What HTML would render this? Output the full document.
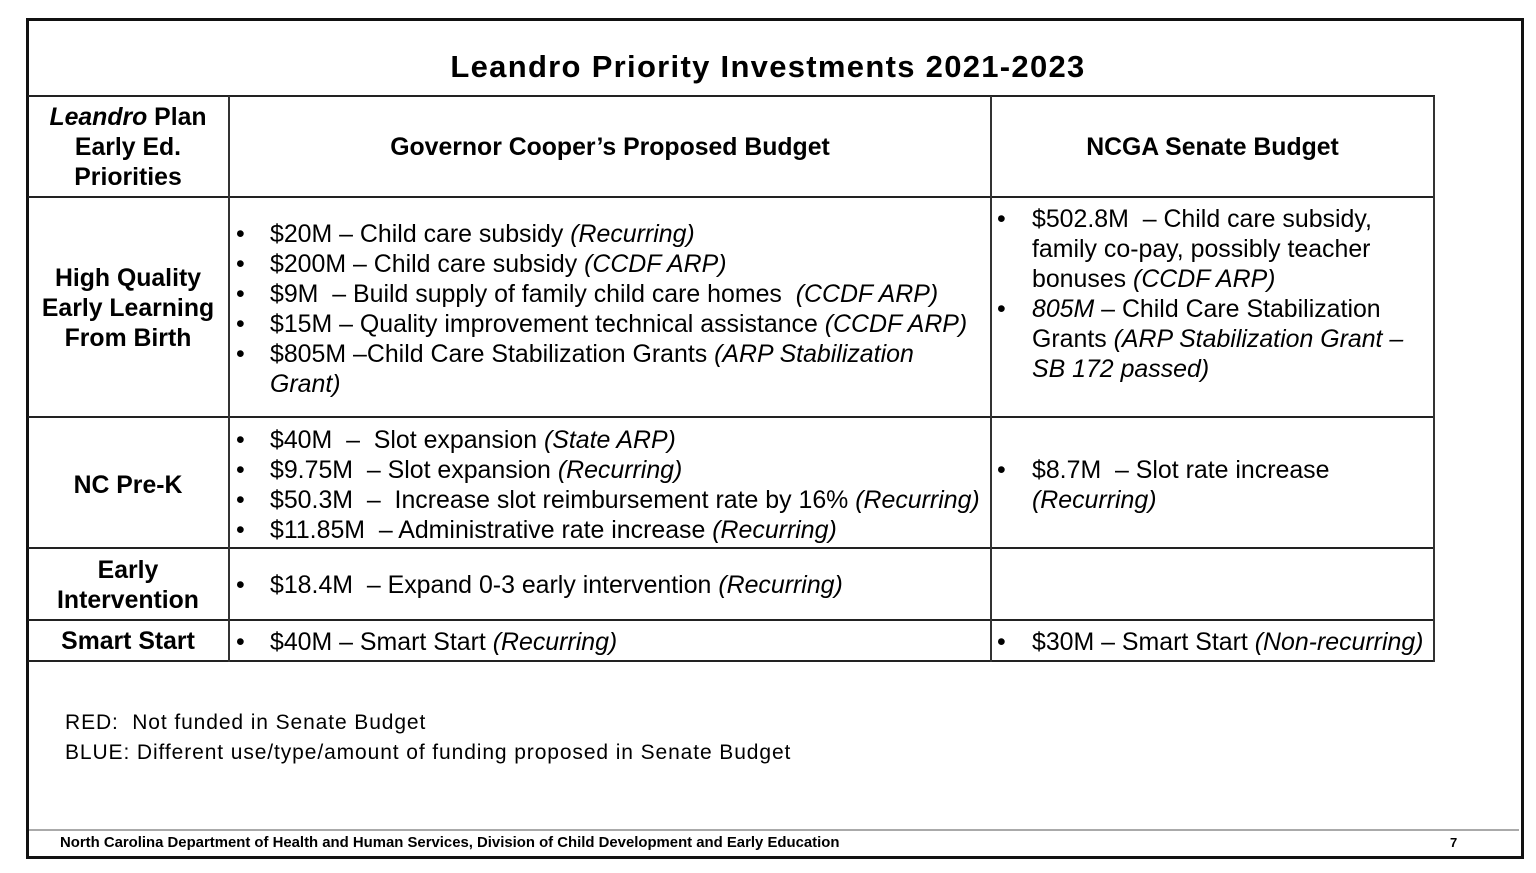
<!DOCTYPE html>
<html><head><meta charset="utf-8"><style>
body{margin:0;width:1536px;height:873px;background:#fff;position:relative;font-family:"Liberation Sans",Arial,sans-serif;color:#000;overflow:hidden}
.a{position:absolute}
.frame{left:26px;top:18px;width:1492px;height:835px;border:3px solid #111}
.h{background:#222}
.v{background:#333}
.t{position:absolute;font-size:24.9px;line-height:30px;white-space:nowrap}
.c{text-align:center;font-weight:bold;font-size:24.8px;line-height:30px;white-space:nowrap}
i{font-style:italic}
</style></head><body>
<div class="a frame"></div>
<div class="a" style="left:0;width:1536px;top:49px;text-align:center;font-weight:bold;font-size:31px;letter-spacing:1.3px">Leandro Priority Investments 2021-2023</div>
<div class="a h" style="left:28px;top:95px;width:1407px;height:2px"></div>
<div class="a h" style="left:28px;top:196px;width:1407px;height:2px"></div>
<div class="a h" style="left:28px;top:416px;width:1407px;height:2px"></div>
<div class="a h" style="left:28px;top:547px;width:1407px;height:2px"></div>
<div class="a h" style="left:28px;top:619px;width:1407px;height:2px"></div>
<div class="a h" style="left:28px;top:660px;width:1407px;height:2px"></div>
<div class="a v" style="left:228px;top:96px;width:2px;height:566px"></div>
<div class="a v" style="left:990px;top:96px;width:2px;height:566px"></div>
<div class="a v" style="left:1433px;top:96px;width:2px;height:566px"></div>
<div class="a" style="left:29px;top:829px;width:1490px;height:2px;background:#aaa"></div>
<div class="a c" style="left:28px;width:200px;top:103px"><i>Leandro</i> Plan<br>Early Ed.<br>Priorities</div>
<div class="a c" style="left:229px;width:762px;top:133px">Governor Cooper’s Proposed Budget</div>
<div class="a c" style="left:991px;width:443px;top:133px">NCGA Senate Budget</div>
<div class="a c" style="left:28px;width:200px;top:264px">High Quality<br>Early Learning<br>From Birth</div>
<div class="a c" style="left:28px;width:200px;top:471px">NC Pre-K</div>
<div class="a c" style="left:28px;width:200px;top:556px">Early<br>Intervention</div>
<div class="a c" style="left:28px;width:200px;top:627px">Smart Start</div>
<div class="t" style="left:236px;top:219px">•<br>•<br>•<br>•<br>•</div>
<div class="t" style="left:270px;top:219px">$20M – Child care subsidy <i>(Recurring)</i><br>$200M – Child care subsidy <i>(CCDF ARP)</i><br>$9M &nbsp;– Build supply of family child care homes &nbsp;<i>(CCDF ARP)</i><br>$15M – Quality improvement technical assistance <i>(CCDF ARP)</i><br>$805M –Child Care Stabilization Grants <i>(ARP Stabilization</i><br><i>Grant)</i></div>
<div class="t" style="left:236px;top:425px">•<br>•<br>•<br>•</div>
<div class="t" style="left:270px;top:425px">$40M &nbsp;– &nbsp;Slot expansion <i>(State ARP)</i><br>$9.75M &nbsp;– Slot expansion <i>(Recurring)</i><br>$50.3M &nbsp;– &nbsp;Increase slot reimbursement rate by 16% <i>(Recurring)</i><br>$11.85M &nbsp;– Administrative rate increase <i>(Recurring)</i></div>
<div class="t" style="left:236px;top:570px">•</div>
<div class="t" style="left:270px;top:570px">$18.4M &nbsp;– Expand 0-3 early intervention <i>(Recurring)</i></div>
<div class="t" style="left:236px;top:627px">•</div>
<div class="t" style="left:270px;top:627px">$40M – Smart Start <i>(Recurring)</i></div>
<div class="t" style="left:997px;top:204px">•<br><br><br>•</div>
<div class="t" style="left:1032px;top:204px">$502.8M &nbsp;– Child care subsidy,<br>family co-pay, possibly teacher<br>bonuses <i>(CCDF ARP)</i><br><i>805M</i> – Child Care Stabilization<br>Grants <i>(ARP Stabilization Grant –</i><br><i>SB 172 passed)</i></div>
<div class="t" style="left:997px;top:455px">•</div>
<div class="t" style="left:1032px;top:455px">$8.7M &nbsp;– Slot rate increase<br><i>(Recurring)</i></div>
<div class="t" style="left:997px;top:627px">•</div>
<div class="t" style="left:1032px;top:627px">$30M – Smart Start <i>(Non-recurring)</i></div>
<div class="a" style="left:65px;top:708px;font-size:21px;line-height:30px;letter-spacing:0.9px;white-space:nowrap">RED: &nbsp;Not funded in Senate Budget<br>BLUE: Different use/type/amount of funding proposed in Senate Budget</div>
<div class="a" style="left:60px;top:835px;font-size:14.9px;font-weight:bold;white-space:nowrap">North Carolina Department of Health and Human Services, Division of Child Development and Early Education</div>
<div class="a" style="left:1450px;top:835px;font-size:13px;font-weight:bold">7</div>
</body></html>
